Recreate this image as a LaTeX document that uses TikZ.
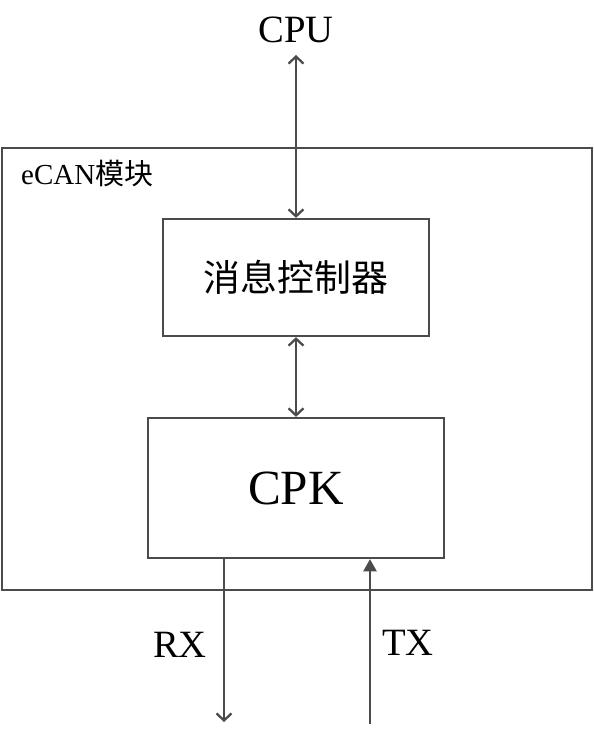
\documentclass[tikz,border=0pt]{standalone}
\usepackage{fontspec}
\setmainfont{Liberation Serif}
\newfontfamily\cjk{Noto Sans CJK SC}
\definecolor{linegray}{RGB}{75,75,75}
\usetikzlibrary{arrows.meta,positioning}

\begin{document}
\begin{tikzpicture}[x=0.02cm,y=-0.02cm,
    box/.style={draw=linegray, line width=1.3pt, inner sep=0pt},
    link/.style={draw=linegray, line width=1.3pt},
    bothway/.style={link, {Straight Barb[length=4pt,width=8.5pt]}-{Straight Barb[length=4pt,width=8.5pt]}},
    downway/.style={link, -{Straight Barb[length=4pt,width=8.5pt]}},
    upway/.style={link, -{Triangle[length=7pt,width=7.5pt]}}]
    \useasboundingbox (0,0) rectangle (594,729);

    % Module frame
    \node[box, minimum width=11.8cm, minimum height=8.84cm] (ecan) at (297,369) {};
    \node[anchor=west, font=\fontsize{16.5}{19}\selectfont] (title) at (15,174) {eCAN{\cjk 模块}};

    % Blocks
    \node[box, minimum width=5.32cm, minimum height=2.34cm, font=\cjk\fontsize{21}{25}\selectfont] (msg) at (296,277.5) {消息控制器};
    \node[box, minimum width=5.92cm, minimum height=2.8cm, font=\fontsize{28}{34}\selectfont] (cpk) at (296,488) {CPK};

    % CPU side
    \node[font=\fontsize{22}{26}\selectfont] (cpu) at (296,30) {CPU};
    \coordinate (cputip) at (296,55);
    \draw[bothway] (cputip) -- (msg.north);
    \draw[bothway] (msg.south) -- (cpk.north);

    % Bus side
    \coordinate (rxend) at (224,722);
    \coordinate (txstart) at (370,724);
    \draw[downway] (cpk.south -| rxend) -- (rxend);
    \draw[upway] (txstart) -- (txstart |- cpk.south);
    \node[font=\fontsize{22}{26}\selectfont] (rx) at (180,645) {RX};
    \node[font=\fontsize{22}{26}\selectfont] (tx) at (408,643) {TX};
\end{tikzpicture}
\end{document}
